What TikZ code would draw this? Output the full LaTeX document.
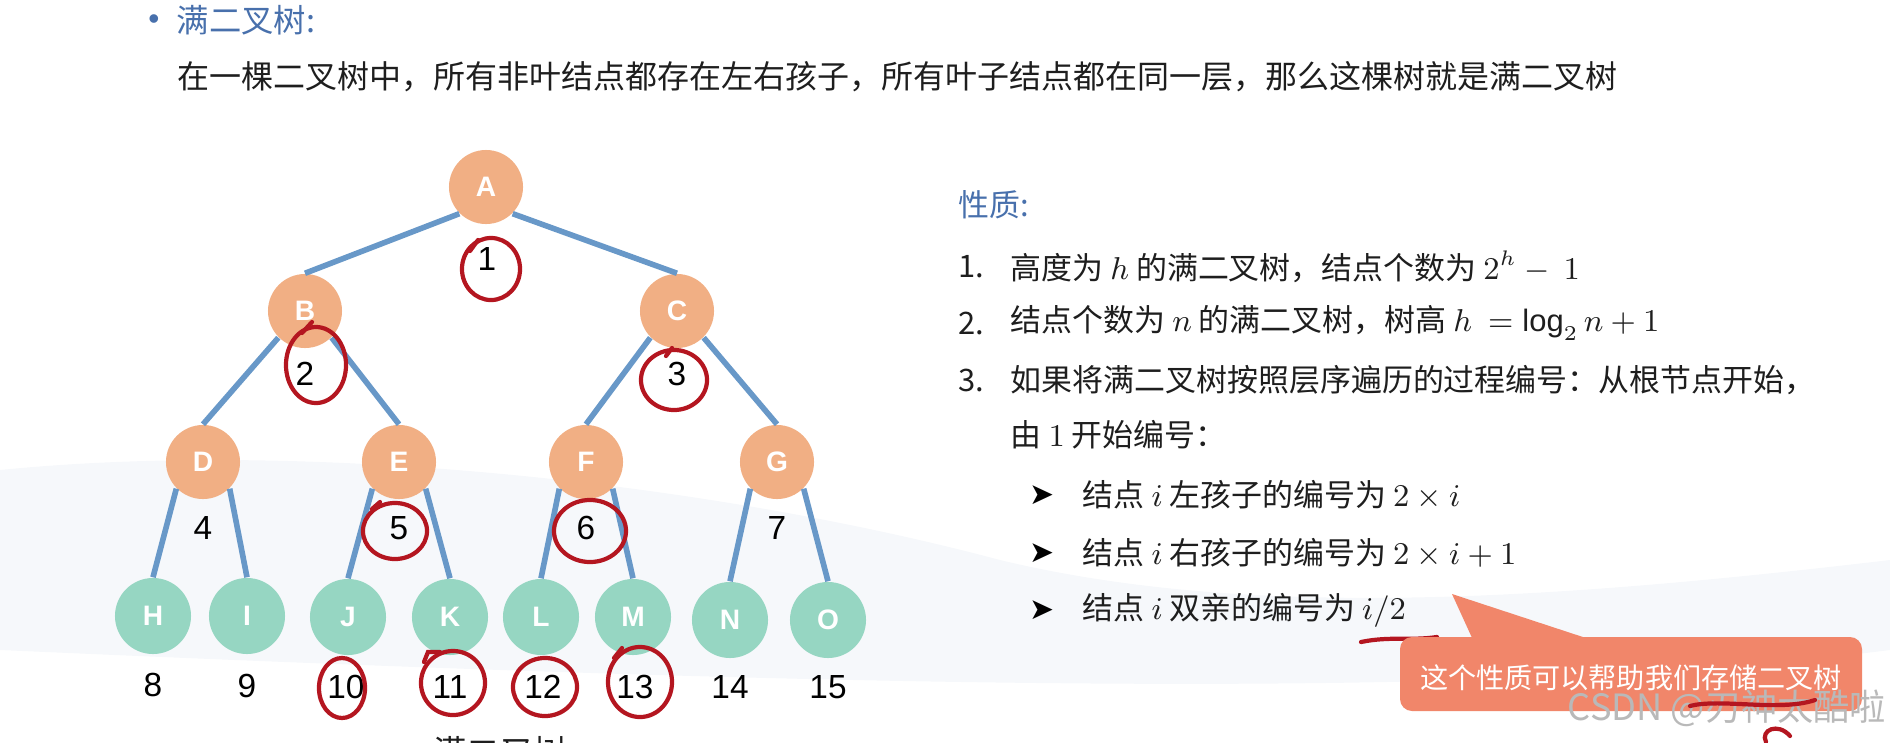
\documentclass[tikz,border=0pt]{standalone}
\usepackage{fontspec}
\setmainfont{Liberation Sans}
\newfontfamily\cjk{Noto Sans CJK SC}
\newfontfamily\symfont{DejaVu Sans}
\definecolor{titleblue}{RGB}{72,112,172}
\definecolor{edgeblue}{RGB}{104,152,200}
\definecolor{innerc}{RGB}{241,175,132}
\definecolor{leafc}{RGB}{150,214,194}
\definecolor{penred}{RGB}{180,22,32}
\definecolor{calloutc}{RGB}{241,134,106}
\definecolor{inkc}{RGB}{30,30,30}
\definecolor{bgband}{RGB}{246,248,251}
\begin{document}
\begin{tikzpicture}[x=0.01cm,y=-0.01cm,
	inode/.style={circle,fill=innerc,minimum size=0.74cm,inner sep=0pt,text=white,font=\bfseries\fontsize{8}{8}\selectfont},
	leaf/.style={inode,fill=leafc,minimum size=0.76cm},
	num/.style={text=black,font=\fontsize{9.5}{10}\selectfont},
	link/.style={edgeblue,line width=1.6pt},
	redpen/.style={penred,line width=1.2pt,line cap=round},
	txt/.style={anchor=west,inner sep=0pt,text=inkc,font=\cjk\fontsize{8.8}{10}\selectfont}]
	\useasboundingbox (0,0) rectangle (1890,742);
	\clip (0,0) rectangle (1890,742);
	% faint background band
	\fill[bgband] (0,470) .. controls (300,440) and (700,480) .. (1000,560)
		.. controls (1250,620) and (1550,600) .. (1890,560) -- (1890,650)
		.. controls (1500,700) and (900,690) .. (0,650) -- cycle;
	% heading
	\node[text=titleblue,font=\fontsize{9}{9}\selectfont] (dot) at (154,22) {•};
	\node[txt,text=titleblue,font=\cjk\fontsize{9.2}{10}\selectfont] (title) at (176,20) {满二叉树:};
	\node[txt,font=\cjk\fontsize{9.1}{10}\selectfont] (def) at (177,77) {在一棵二叉树中，所有非叶结点都存在左右孩子，所有叶子结点都在同一层，那么这棵树就是满二叉树};
	% the tree
	\node[inode] (A) at (486,187) {A};
	\node[inode] (B) at (305,311) {B};
	\node[inode] (C) at (677,311) {C};
	\node[inode] (D) at (203,462) {D};
	\node[inode] (E) at (399,462) {E};
	\node[inode] (F) at (586,462) {F};
	\node[inode] (G) at (777,462) {G};
	\node[leaf] (H) at (153,616) {H};
	\node[leaf] (I) at (247,616) {I};
	\node[leaf] (J) at (348,617) {J};
	\node[leaf] (K) at (450,617) {K};
	\node[leaf] (L) at (541,617) {L};
	\node[leaf] (M) at (633,617) {M};
	\node[leaf] (N) at (730,620) {N};
	\node[leaf] (O) at (828,620) {O};
	\foreach \p/\c/\s in {A/B/south west,A/C/south east,B/D/south west,B/E/south east,
		C/F/south west,C/G/south east,D/H/south west,D/I/south east,E/J/south west,
		E/K/south east,F/L/south west,F/M/south east,G/N/south west,G/O/south east}
		\draw[link] (\p.\s) -- (\c.north);
	\foreach \t/\x/\y in {1/487/259,2/305/374,3/677/374,4/203/528,5/399/528,6/586/528,7/777/528,
		8/153/685,9/247/686,10/346/687,11/450/687,12/543/687,13/635/687,14/730/687,15/828/687}
		\node[num] (n\t) at (\x,\y) {\t};
	\node[font=\cjk\fontsize{9.5}{10}\selectfont,text=inkc] (cap) at (500,752) {满二叉树};
	% red pen marks
	\foreach \x/\y/\a/\b in {491/269/0.29/0.31,316/365/0.30/0.38,674/380/0.33/0.30,
		395/531/0.32/0.28,590/531/0.36/0.31,342/688/0.23/0.30,453/683/0.32/0.32,
		545/687/0.32/0.29,640/682/0.32/0.35}
		\draw[redpen] (\x,\y) ellipse [x radius=\a cm, y radius=\b cm];
	\draw[redpen] (470,251) -- (478,240);
	\draw[redpen] (302,333) -- (312,322);
	\draw[redpen] (666,356) -- (672,348);
	\draw[redpen] (372,509) -- (380,502);
	\draw[redpen] (424,662) -- (428,652) -- (440,652);
	\draw[redpen] (614,658) -- (622,648);
	% properties
	\node[txt,text=titleblue] (prop) at (958,205) {性质:};
	\node[txt] (k1) at (958,267) {1.};
	\node[txt] (p1) at (1010,267) {高度为 $h$ 的满二叉树，结点个数为 $2^{h}-\ 1$};
	\node[txt] (k2) at (958,323) {2.};
	\node[txt] (p2) at (1010,323) {结点个数为 $n$ 的满二叉树，树高 $h\ =\log_2 n+1$};
	\node[txt] (k3) at (958,380) {3.};
	\node[txt] (p3) at (1010,380) {如果将满二叉树按照层序遍历的过程编号：从根节点开始，};
	\node[txt] (p3b) at (1010,435) {由 $1$ 开始编号：};
	\foreach \y/\s [count=\k] in {495/{左孩子的编号为 $2\times i$},553/{右孩子的编号为 $2\times i+1$},610/{双亲的编号为 $i/2$}}{
		\node[text=black,font=\symfont\fontsize{8.5}{8}\selectfont] (b\k) at (1042,\y) {➤};
		\node[txt] (r\k) at (1082,\y) {结点 $i$ \s};
	}
	\draw[redpen] (1361,642) .. controls (1390,636) and (1410,641) .. (1437,637);
	% callout
	\fill[calloutc,rounded corners=0.12cm] (1400,637) rectangle (1862,711);
	\fill[calloutc] (1452,594) -- (1473,640) -- (1592,640) -- cycle;
	\node[text=white,font=\cjk\fontsize{8}{8}\selectfont] (note) at (1631,678) {这个性质可以帮助我们存储二叉树};
	\node[text=gray!55,font=\cjk\fontsize{10.3}{10}\selectfont] (wm) at (1727,708) {CSDN @刃神太酷啦};
	\draw[redpen] (1690,706) .. controls (1720,698) and (1780,712) .. (1815,700);
	\draw[redpen] (1766,742) .. controls (1760,730) and (1778,722) .. (1790,736);
\end{tikzpicture}
\end{document}
